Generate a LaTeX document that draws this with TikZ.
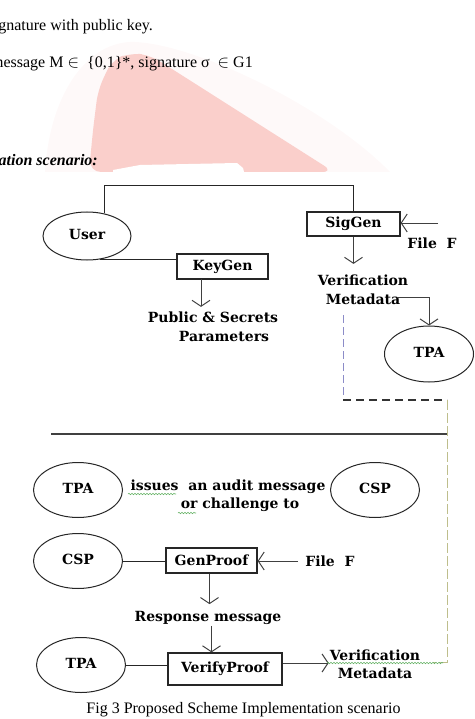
\documentclass[tikz,border=0pt]{standalone}
\usepackage{fontspec}
\setmainfont{Liberation Serif}
\newfontfamily\diafont{DejaVu Serif}
\usetikzlibrary{shapes.geometric,arrows.meta,decorations.pathmorphing}

\definecolor{markpink}{RGB}{250,207,203}
\definecolor{dashblue}{RGB}{140,140,200}
\definecolor{dashyel}{RGB}{190,190,140}
\newcommand{\lift}[1]{\raisebox{4pt}{#1}}

\tikzset{
  actor/.style={draw=black!85, ellipse, line width=1pt, minimum width=89pt,
    minimum height=55pt, inner sep=0pt, font=\diafont\bfseries\fontsize{14}{18}\selectfont},
  procbox/.style={draw=black!85, rectangle, line width=1.2pt, inner sep=0pt,
    font=\diafont\bfseries\fontsize{14}{18}\selectfont},
  lbl/.style={inner sep=1pt, align=center, font=\diafont\bfseries\fontsize{14}{18}\selectfont},
  flow/.style={draw=black!75, line width=1pt, -{Straight Barb[length=6pt,width=18pt]}},
  link/.style={draw=black!85, line width=1pt},
  squig/.style={decorate, decoration={snake, amplitude=0.7pt, segment length=3pt},
    draw=green!50!black!60, line width=0.6pt},
  body/.style={inner sep=0pt, font=\fontsize{16}{19}\selectfont}
}

\begin{document}
\begin{tikzpicture}[x=1pt,y=-1pt]
  \useasboundingbox (0,0) rectangle (474,719);
  \clip (0,0) rectangle (474,719);

  % Watermark behind the page text
  \fill[markpink!12] (45,172) .. controls (50,90) and (90,40) .. (135,42)
    .. controls (200,45) and (330,110) .. (390,172) -- cycle;
  \fill[markpink, rounded corners=12pt] (89,172) -- (93,130) -- (98,90)
    -- (112,60) -- (130,53) -- (150,55) -- (334,172) -- cycle;
  \fill[white] (113,172) -- (113,170) -- (140,165) -- (237,163) -- (243,168) -- (244,172) -- cycle;

  % Page text above the figure
  \node[body, anchor=base east] (sigline) at (153,31) {signature with public key.};
  \node[body, anchor=base east] (msgline) at (253,68)
    {message M $\in$\ \ \{0,1\}*, signature σ\ \ $\in$ G1};
  \node[body, anchor=base east, font=\fontsize{16}{19}\selectfont\bfseries\itshape]
    (scenline) at (98,166) {Implementation scenario:};

  % Upper part: key and signature generation
  \node[actor, minimum width=88pt, minimum height=48pt] (user) at (87,236) {\lift{User}};
  \node[procbox, minimum width=93pt, minimum height=24pt] (siggen) at (353.5,224) {SigGen};
  \node[procbox, minimum width=91pt, minimum height=25pt] (keygen) at (222.5,266.5) {KeyGen};
  \node[lbl] (file1) at (432,243) {File\ \ F};
  \coordinate (file1in) at (438,223);
  \node[lbl, font=\diafont\bfseries\fontsize{14}{19}\selectfont] (meta1) at (363,290) {Verification\\Metadata};
  \node[actor, minimum width=89pt, minimum height=56pt] (tpa1) at (429,354) {\lift{TPA}};
  \node[lbl, font=\diafont\bfseries\fontsize{14}{19}\selectfont] (params) at (213,327)
    {Public \& Secrets\\\hspace*{22pt}Parameters};
  \coordinate (kgout) at (201,279);

  % Drawing lines of the upper part
  \draw[link] (user.52) -- (user.52 |- 0,186) -| (siggen.north);
  \draw[link] (user.-60) -- (user.-60 -| keygen.west);
  \draw[flow] (file1in) -- (file1in -| siggen.east);
  \draw[flow, shorten >=10pt] (siggen.south) -- (siggen.south |- meta1.north);
  \draw[flow] ([xshift=-12pt,yshift=9pt]meta1.south east) -| (tpa1.north);
  \draw[flow, shorten >=4pt] (kgout) -- (kgout |- params.north);

  % Dashed return path
  \coordinate (dashA) at (343,315);
  \coordinate (dashB) at (343,400);
  \coordinate (dashC) at (447,400);
  \coordinate (dashD) at (447,662);
  \coordinate (dashE) at (433,662);
  \draw[dashblue, line width=1pt, dash pattern=on 8pt off 4pt] (dashA) -- (dashB);
  \draw[black!80, line width=1.2pt, dash pattern=on 8pt off 5pt] (dashB) -- (dashC);
  \draw[dashyel, line width=1pt, dash pattern=on 10pt off 3pt] (dashC) -- (dashD) -- (dashE);

  % Divider
  \draw[black!75, line width=1.5pt] (51,434) -- (447,434);

  % Lower part: challenge, proof and verification
  \node[actor] (tpa2) at (78,490) {\lift{TPA}};
  \node[lbl] (audit) at (228,496) {issues\ \ an audit message\\\hspace*{24pt}or challenge to};
  \node[actor] (csp1) at (375,490) {\lift{CSP}};
  \node[actor] (csp2) at (78,561) {\lift{CSP}};
  \node[procbox, minimum width=91pt, minimum height=25pt] (genproof) at (211.5,560.5) {GenProof};
  \node[lbl] (file2) at (330,561) {File\ \ F};
  \node[lbl] (resp) at (208,618) {Response message};
  \node[actor] (tpa3) at (81,665) {\lift{TPA}};
  \node[procbox, minimum width=114pt, minimum height=32pt] (verify) at (225,669)
    {\raisebox{-5pt}{VerifyProof}};
  \node[lbl] (meta2) at (375,664) {Verification\\Metadata};
  \coordinate (vpout) at ([yshift=6pt]verify.east);

  % Drawing lines of the lower part
  \draw[link] (csp2.east) -- (csp2.east -| genproof.west);
  \draw[flow, shorten <=6pt] (file2.west) -- (file2.west -| genproof.east);
  \draw[flow, shorten >=6pt] ([xshift=-2pt]genproof.south) -- ([xshift=-2pt]genproof.south |- resp.north);
  \draw[flow] (resp.south -| genproof.south) -- (verify.north -| genproof.south);
  \draw[link] (tpa3.east) -- (tpa3.east -| verify.west);
  \draw[flow] (vpout) -- (vpout -| meta2.west);

  % Spelling marks
  \draw[squig] (128,494) -- (176,494);
  \draw[squig] (178,513) -- (196,513);
  \draw[squig] (327,663) -- (443,663);

  % Caption
  \node[body] (caption) at (243.5,710) {Fig 3 Proposed Scheme Implementation scenario};
\end{tikzpicture}
\end{document}
